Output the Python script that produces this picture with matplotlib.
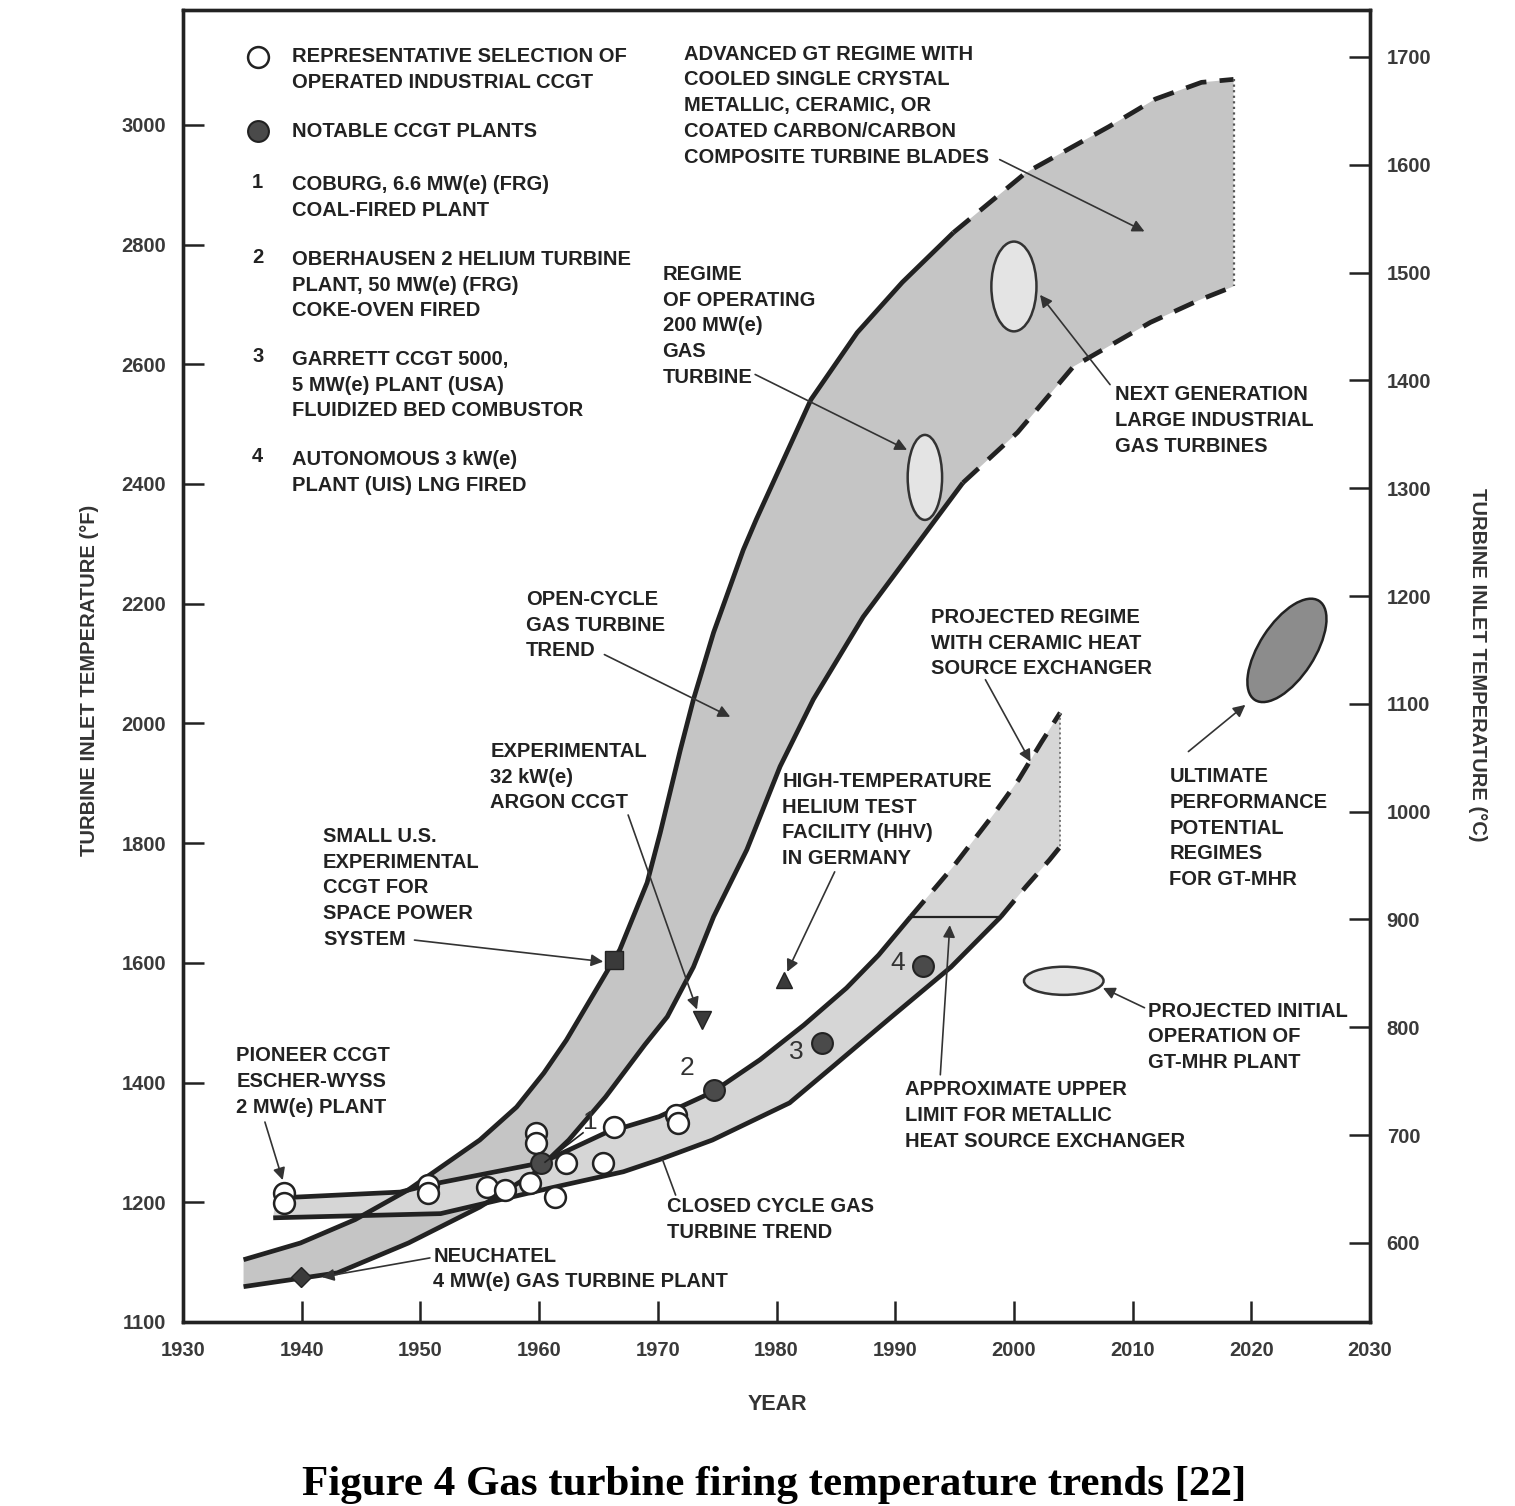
import numpy as np
import matplotlib
matplotlib.use('Agg')
import matplotlib.pyplot as plt
from matplotlib.patches import Ellipse
from matplotlib.transforms import ScaledTranslation

plt.rcParams['font.family'] = ['Liberation Sans', 'DejaVu Sans']

# ---------------- data (year, turbine inlet temperature deg F) ----------------
open_upper_solid_yr = [1935.1, 1939.9, 1944.5, 1949.0, 1955.0, 1958.1, 1960.4, 1962.3, 1964.3, 1966.8,
                       1969.1, 1970.2, 1971.9, 1973.0, 1974.7, 1977.2, 1978.3, 1982.9, 1986.8, 1990.6, 1994.9]
open_upper_solid_F = [1104, 1132, 1171, 1221, 1304, 1359, 1416, 1471, 1538, 1622,
                      1734, 1817, 1956, 2040, 2152, 2290, 2341, 2541, 2653, 2737, 2820]
open_upper_dash_yr = [1994.9, 2001.0, 2008.0, 2011.9, 2015.8, 2018.5]
open_upper_dash_F = [2820, 2920, 2997, 3043, 3071, 3076]

open_lower_solid_yr = [1935.1, 1943.0, 1949.0, 1955.0, 1959.6, 1962.5, 1965.6, 1968.9, 1970.8, 1973.0,
                       1974.7, 1977.5, 1980.3, 1983.1, 1987.3, 1991.5, 1995.7]
open_lower_solid_F = [1059, 1082, 1132, 1192, 1249, 1304, 1376, 1463, 1510, 1593,
                      1677, 1789, 1928, 2040, 2178, 2290, 2402]
open_lower_dash_yr = [1995.7, 2000.3, 2005.0, 2011.5, 2015.7, 2018.5]
open_lower_dash_F = [2402, 2486, 2596, 2670, 2708, 2730]

closed_upper_solid_yr = [1937.8, 1948.3, 1950.7, 1960.2, 1965.6, 1970.1, 1974.6, 1978.6, 1982.3, 1985.9, 1988.6, 1991.3]
closed_upper_solid_F = [1207, 1217, 1229, 1266, 1316, 1343, 1384, 1438, 1496, 1558, 1613, 1677]
closed_upper_dash_yr = [1991.3, 1994.9, 1998.4, 2000.4, 2002.3, 2003.9]
closed_upper_dash_F = [1677, 1761, 1851, 1906, 1968, 2018]
closed_lower_solid_yr = [1937.6, 1951.7, 1961.0, 1967.1, 1970.1, 1974.6, 1981.1, 1984.7, 1989.7, 1994.7, 1998.9]
closed_lower_solid_F = [1174, 1181, 1224, 1251, 1271, 1304, 1366, 1426, 1510, 1593, 1677]
closed_lower_dash_yr = [1998.9, 2001.0, 2003.0, 2003.9]
closed_lower_dash_F = [1677, 1727, 1772, 1794]

metal_limit_yr = [1991.3, 1998.9]
metal_limit_F = 1677

ccgt_yr = [1938.5, 1938.5, 1950.6, 1950.6, 1955.6, 1957.1, 1959.2, 1959.7, 1959.7, 1961.3, 1962.3, 1965.4, 1966.3, 1971.5, 1971.7]
ccgt_F = [1216, 1199, 1229, 1216, 1226, 1221, 1232, 1316, 1299, 1209, 1266, 1266, 1326, 1346, 1333]

plant_yr = [1960.2, 1974.7, 1983.8, 1992.3]
plant_F = [1266, 1388, 1466, 1595]
plant_ids = ['1', '2', '3', '4']

space_yr, space_F = [1966.3], [1605]
argon_yr, argon_F = [1973.7], [1505]
hhv_yr, hhv_F = [1980.6], [1572]
neuchatel_yr, neuchatel_F = [1939.9], [1075]

# ellipses: centre year, centre F, width (years), height (F)
regime200 = (1992.5, 2411, 2.9, 142)
nextgen = (2000.0, 2730, 3.8, 150)
gtmhr_init = (2004.2, 1570, 6.7, 47)
ultimate_centre = (2023.0, 2122)

x_ticks = [1930, 1940, 1950, 1960, 1970, 1980, 1990, 2000, 2010, 2020, 2030]
yF_ticks = [1000, 1200, 1400, 1600, 1800, 2000, 2200, 2400, 2600, 2800, 3000]
yF_labels = ['1100', '1200', '1400', '1600', '1800', '2000', '2200', '2400', '2600', '2800', '3000']
yC_ticks = [600, 700, 800, 900, 1000, 1100, 1200, 1300, 1400, 1500, 1600, 1700]

# ---------------- figure ----------------
INK = '#222222'
fig = plt.figure(figsize=(15.15, 15.06), dpi=100)
ax = fig.add_axes([0.1208, 0.1222, 0.7835, 0.8712])
ax.set_xlim(1930, 2030)
ax.set_ylim(1000, 3192)

# bands
ox = np.concatenate([open_upper_solid_yr, open_upper_dash_yr[1:], open_lower_dash_yr[::-1], open_lower_solid_yr[::-1]])
oy = np.concatenate([open_upper_solid_F, open_upper_dash_F[1:], open_lower_dash_F[::-1], open_lower_solid_F[::-1]])
ax.fill(ox, oy, color='#c5c5c5', lw=0, zorder=1)
cx = np.concatenate([closed_upper_solid_yr, closed_upper_dash_yr[1:], closed_lower_dash_yr[::-1], closed_lower_solid_yr[::-1]])
cy = np.concatenate([closed_upper_solid_F, closed_upper_dash_F[1:], closed_lower_dash_F[::-1], closed_lower_solid_F[::-1]])
ax.fill(cx, cy, color='#d6d6d6', lw=0, zorder=1.5)

lwb = 3.4
for xs, ys in [(open_upper_solid_yr, open_upper_solid_F), (open_lower_solid_yr, open_lower_solid_F),
               (closed_upper_solid_yr, closed_upper_solid_F), (closed_lower_solid_yr, closed_lower_solid_F)]:
    ax.plot(xs, ys, color=INK, lw=lwb, solid_capstyle='butt', zorder=3)
for xs, ys in [(open_upper_dash_yr, open_upper_dash_F), (open_lower_dash_yr, open_lower_dash_F),
               (closed_upper_dash_yr, closed_upper_dash_F), (closed_lower_dash_yr, closed_lower_dash_F)]:
    ax.plot(xs, ys, color=INK, lw=lwb, dashes=(4.5, 2.8), zorder=3)
# dotted right edges
ax.plot([open_upper_dash_yr[-1], open_lower_dash_yr[-1]], [open_upper_dash_F[-1], open_lower_dash_F[-1]],
        color='#555555', lw=1.6, ls=(0, (1, 1.5)), zorder=3)
ax.plot([closed_upper_dash_yr[-1], closed_lower_dash_yr[-1]], [closed_upper_dash_F[-1], closed_lower_dash_F[-1]],
        color='#777777', lw=1.4, ls=(0, (1, 1.5)), zorder=3)
# metallic limit line
ax.plot(metal_limit_yr, [metal_limit_F, metal_limit_F], color=INK, lw=1.6, zorder=3)

# ellipses
for (ex, ey, ew, eh) in [regime200, nextgen, gtmhr_init]:
    ax.add_patch(Ellipse((ex, ey), ew, eh, facecolor='#e4e4e4', edgecolor='#333333', lw=1.8, zorder=4))
ult_tr = fig.dpi_scale_trans + ScaledTranslation(ultimate_centre[0], ultimate_centre[1], ax.transData)
ax.add_patch(Ellipse((0, 0), 1.18, 0.55, angle=57, transform=ult_tr,
                     facecolor='#8c8c8c', edgecolor='#222222', lw=1.8, zorder=4))

# markers
ax.plot(ccgt_yr, ccgt_F, 'o', ms=15, mfc='white', mec=INK, mew=1.8, ls='none', zorder=5)
ax.plot(plant_yr, plant_F, 'o', ms=15, mfc='#4a4a4a', mec=INK, mew=1.5, ls='none', zorder=6)
ax.plot(space_yr, space_F, 's', ms=13, mfc='#3a3a3a', mec=INK, ls='none', zorder=6)
ax.plot(argon_yr, argon_F, 'v', ms=13, mfc='#3a3a3a', mec=INK, ls='none', zorder=6)
ax.plot(hhv_yr, hhv_F, '^', ms=12, mfc='#3a3a3a', mec=INK, ls='none', zorder=6)
ax.plot(neuchatel_yr, neuchatel_F, 'D', ms=10, mfc='#3a3a3a', mec=INK, ls='none', zorder=6)

# plant number labels on chart
for s, (tx, ty) in zip(plant_ids, [(1964.3, 1334), (1972.5, 1424), (1981.7, 1451), (1990.2, 1600)]):
    ax.text(tx, ty, s, fontsize=19, color='#333333', ha='center', va='center', zorder=7)
ax.plot([1963.7, 1960.5], [1316, 1267], color=INK, lw=1.2, zorder=7)

# ---------------- annotations ----------------
FS = 14.5
LS = 1.45


def note(x, y, s, **kw):
    d = dict(fontsize=FS, fontweight='bold', color=INK, ha='left', va='top', linespacing=LS, zorder=8)
    d.update(kw)
    ax.text(x, y, s, **d)


def arrow(x0, y0, x1, y1, head=True):
    ax.annotate('', xy=(x1, y1), xytext=(x0, y0),
                arrowprops=dict(arrowstyle='-|>' if head else '-', color='#333333', lw=1.2,
                                mutation_scale=18, shrinkA=0, shrinkB=0), zorder=8)


# legend block
ax.plot([1936.3], [3114], 'o', ms=15, mfc='white', mec=INK, mew=1.8, zorder=8)
ax.plot([1936.3], [2989], 'o', ms=15, mfc='#4a4a4a', mec=INK, mew=1.5, zorder=8)
for s, yy in zip(plant_ids, [2904, 2778, 2613, 2446]):
    ax.text(1936.3, yy, s, fontsize=FS, fontweight='bold', color=INK, ha='center', va='center')
note(1939.2, 3130, 'REPRESENTATIVE SELECTION OF\nOPERATED INDUSTRIAL CCGT')
note(1939.2, 2989, 'NOTABLE CCGT PLANTS', va='center')
note(1939.2, 2916, 'COBURG, 6.6 MW(e) (FRG)\nCOAL-FIRED PLANT')
note(1939.2, 2791, 'OBERHAUSEN 2 HELIUM TURBINE\nPLANT, 50 MW(e) (FRG)\nCOKE-OVEN FIRED')
note(1939.2, 2624, 'GARRETT CCGT 5000,\n5 MW(e) PLANT (USA)\nFLUIDIZED BED COMBUSTOR')
note(1939.2, 2457, 'AUTONOMOUS 3 kW(e)\nPLANT (UIS) LNG FIRED')

note(1972.2, 3134, 'ADVANCED GT REGIME WITH\nCOOLED SINGLE CRYSTAL\nMETALLIC, CERAMIC, OR\nCOATED CARBON/CARBON\nCOMPOSITE TURBINE BLADES')
arrow(1998.8, 2942, 2011.0, 2822)
note(1970.4, 2766, 'REGIME\nOF OPERATING\n200 MW(e)\nGAS\nTURBINE')
arrow(1978.2, 2583, 1991.0, 2457)
note(2008.5, 2565, 'NEXT GENERATION\nLARGE INDUSTRIAL\nGAS TURBINES')
arrow(2008.1, 2566, 2002.2, 2716)
note(1958.9, 2223, 'OPEN-CYCLE\nGAS TURBINE\nTREND')
arrow(1965.5, 2115, 1976.1, 2011)
note(1955.9, 1969, 'EXPERIMENTAL\n32 kW(e)\nARGON CCGT')
arrow(1967.5, 1847, 1973.3, 1522)
note(1941.8, 1827, 'SMALL U.S.\nEXPERIMENTAL\nCCGT FOR\nSPACE POWER\nSYSTEM')
arrow(1949.5, 1638, 1965.4, 1602)
note(1980.5, 1919, 'HIGH-TEMPERATURE\nHELIUM TEST\nFACILITY (HHV)\nIN GERMANY')
arrow(1984.9, 1752, 1980.9, 1585)
note(1993.0, 2193, 'PROJECTED REGIME\nWITH CERAMIC HEAT\nSOURCE EXCHANGER')
arrow(1997.6, 2073, 2001.4, 1936)
note(2013.1, 1927, 'ULTIMATE\nPERFORMANCE\nPOTENTIAL\nREGIMES\nFOR GT-MHR')
arrow(2014.7, 1953, 2019.5, 2031)
note(2011.3, 1535, 'PROJECTED INITIAL\nOPERATION OF\nGT-MHR PLANT')
arrow(2011.0, 1525, 2007.5, 1558)
note(1990.8, 1404, 'APPROXIMATE UPPER\nLIMIT FOR METALLIC\nHEAT SOURCE EXCHANGER')
arrow(1993.8, 1413, 1994.6, 1663)
note(1934.5, 1461, 'PIONEER CCGT\nESCHER-WYSS\n2 MW(e) PLANT')
arrow(1936.9, 1334, 1938.4, 1237)
note(1970.8, 1209, 'CLOSED CYCLE GAS\nTURBINE TREND')
arrow(1971.5, 1212, 1970.4, 1271, head=False)
note(1951.1, 1126, 'NEUCHATEL\n4 MW(e) GAS TURBINE PLANT')
arrow(1950.8, 1107, 1941.7, 1075)

# ---------------- axes styling ----------------
ax.set_xticks(x_ticks)
ax.set_xticklabels([str(v) for v in x_ticks])
ax.set_yticks(yF_ticks)
ax.set_yticklabels(yF_labels)
ax.tick_params(axis='both', direction='in', length=15, width=1.8, color=INK,
               labelsize=14.5, labelcolor='#3a3a3a')
ax.tick_params(axis='x', pad=14)
ax.tick_params(axis='y', pad=12)
for lab in ax.get_xticklabels() + ax.get_yticklabels():
    lab.set_fontweight('bold')
for sp in ax.spines.values():
    sp.set_linewidth(2.4)
    sp.set_color(INK)

ax2 = ax.twinx()
ax2.set_ylim(526.7, 1743.6)
ax2.set_yticks(yC_ticks)
ax2.set_yticklabels([str(v) for v in yC_ticks])
ax2.tick_params(axis='y', direction='in', length=15, width=1.8, color=INK,
                labelsize=14.5, labelcolor='#3a3a3a', pad=12)
for lab in ax2.get_yticklabels():
    lab.set_fontweight('bold')
for sp in ax2.spines.values():
    sp.set_linewidth(2.4)
    sp.set_color(INK)

fig.text(90 / 1515, 1 - 680 / 1506, 'TURBINE INLET TEMPERATURE (°F)', rotation=90,
         ha='center', va='center', fontsize=14.5, fontweight='bold', color='#333333')
fig.text(1478 / 1515, 1 - 665 / 1506, 'TURBINE INLET TEMPERATURE (°C)', rotation=270,
         ha='center', va='center', fontsize=14.5, fontweight='bold', color='#333333')
fig.text(777 / 1515, 1 - 1405 / 1506, 'YEAR', ha='center', va='center', fontsize=15.5,
         fontweight='bold', color='#333333')
fig.text(0.511, 0.001, 'Figure 4 Gas turbine firing temperature trends [22]', ha='center',
         va='bottom', fontsize=31, fontweight='bold', family=['Liberation Serif', 'DejaVu Serif'],
         color='black')

fig.savefig('out.png', dpi=100)
